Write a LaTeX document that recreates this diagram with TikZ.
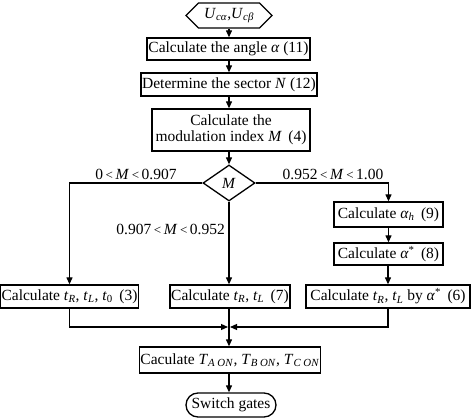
\documentclass[tikz,border=0pt]{standalone}
\usepackage{fontspec}
\setmainfont{Liberation Serif}
\usetikzlibrary{shapes.geometric,shapes.symbols,shapes.misc,arrows.meta}
\newcommand{\iv}[1]{\textit{#1}}
\newcommand{\sbs}[1]{\textsubscript{\textit{#1}}}
\newcommand{\lt}{\,{\fontsize{13}{13}\selectfont<}\,}
\tikzset{
  boxst/.style={draw, line width=1.3pt, rectangle, inner sep=1pt, align=center, font=\fontsize{15.5}{16.5}\selectfont},
  arr/.style={line width=1.2pt, -{Triangle[length=7pt,width=6pt]}},
  ln/.style={line width=1.2pt},
  lbl/.style={font=\fontsize{15.5}{16.5}\selectfont, inner sep=1pt}
}
\begin{document}
\begin{tikzpicture}[x=1pt,y=-1pt]
\useasboundingbox (0,0) rectangle (474,419);
\node[boxst, shape=signal, signal to=west and east, minimum width=86pt, minimum height=25pt, inner sep=0pt] (hex) at (229,15.5) {\iv{U}\sbs{cα},\iv{U}\sbs{cβ}};
\node[boxst, minimum width=163pt, minimum height=22pt] (b1) at (228.5,49) {Calculate the angle \iv{α} (11)};
\node[boxst, minimum width=174pt, minimum height=23pt] (b2) at (229,84.5) {Determine the sector \iv{N} (12)};
\node[boxst, minimum width=158pt, minimum height=42pt] (b3) at (231,130) {Calculate the\\[-1pt]modulation index \iv{M}\, (4)};
\node[boxst, shape=diamond, minimum width=52pt, minimum height=36pt, inner sep=0pt] (dia) at (229,183) {\iv{M}};
\node[boxst, minimum width=109pt, minimum height=25pt] (ah) at (388.5,214.5) {Calculate \iv{α}\sbs{h}\, (9)};
\node[boxst, minimum width=109pt, minimum height=22pt] (as) at (388.5,254) {Calculate \iv{α}\textsuperscript{*}\, (8)};
\node[boxst, minimum width=135pt, minimum height=23pt] (L) at (69.5,296.5) {Calculate \iv{t}\sbs{R}, \iv{t}\sbs{L}, \iv{t}\textsubscript{0}\, (3)};
\node[boxst, minimum width=120pt, minimum height=23pt] (Mi) at (230,296.5) {Calculate \iv{t}\sbs{R}, \iv{t}\sbs{L}\, (7)};
\node[boxst, minimum width=164pt, minimum height=23pt] (R) at (388,296.5) {Calculate \iv{t}\sbs{R}, \iv{t}\sbs{L} by \iv{α}\textsuperscript{*}\, (6)};
\coordinate (mg) at (229,327);
\node[boxst, minimum width=170pt, minimum height=26pt] (cal) at (230,360) {Caculate \iv{T}\sbs{A ON}, \iv{T}\sbs{B ON}, \iv{T}\sbs{C ON}};
\node[boxst, shape=rounded rectangle, minimum width=92pt, minimum height=24pt] (sw) at (231,405) {Switch gates};
\draw[arr] (hex.south) -- (b1.north -| hex.south);
\draw[arr] (b1.south -| hex.south) -- (b2.north -| hex.south);
\draw[arr] (b2.south -| hex.south) -- (b3.north -| hex.south);
\draw[arr] (b3.south -| dia.north) -- (dia.north);
\draw[arr] (dia.west) -| (L.north);
\draw[arr] (dia.east) -| (ah.north);
\draw[arr] (ah.south) -- (as.north);
\draw[arr] (as.south -| R.north) -- (R.north);
\draw[arr] (dia.south) -- (Mi.north -| dia.south);
\draw[arr] (L.south) |- ([xshift=-1pt]mg);
\draw[arr] (R.south) |- ([xshift=1pt]mg);
\draw[arr] (Mi.south -| mg) -- (cal.north -| mg);
\draw[arr] (cal.south -| mg) -- (sw.north -| mg);
\node[lbl] (l1) at (136,174) {0\lt\iv{M}\lt0.907};
\node[lbl] (l2) at (333,174) {0.952\lt\iv{M}\lt1.00};
\node[lbl, anchor=east] (l3) at (226,229) {0.907\lt\iv{M}\lt0.952};
\end{tikzpicture}
\end{document}
